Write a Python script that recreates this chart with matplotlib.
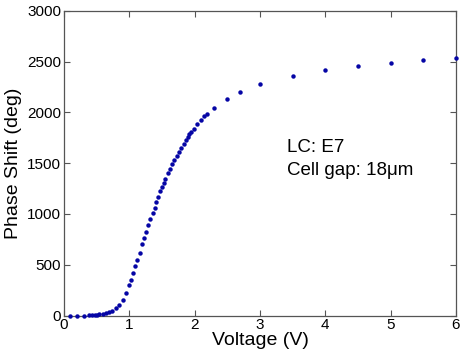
import matplotlib
matplotlib.use("Agg")
import matplotlib.pyplot as plt

# Данные: напряжение (В) и фазовый сдвиг (град)
voltage = [0.09, 0.2, 0.3, 0.39, 0.43, 0.47, 0.50, 0.54, 0.59, 0.64, 0.69, 0.74,
           0.80, 0.84, 0.90, 0.95, 1.00, 1.02, 1.05, 1.09, 1.12, 1.16, 1.19, 1.23,
           1.26, 1.29, 1.32, 1.36, 1.39, 1.41, 1.44, 1.47, 1.50, 1.53, 1.55, 1.59,
           1.63, 1.66, 1.69, 1.73, 1.76, 1.79, 1.83, 1.87, 1.90, 1.92, 1.95, 1.99,
           2.04, 2.09, 2.15, 2.19, 2.30, 2.50, 2.70, 3.00, 3.50, 4.00, 4.50, 5.00,
           5.50, 6.00]
phase = [0, 0, 0, 5, 8, 10, 10, 12, 15, 24, 36, 49,
         73, 105, 154, 226, 298, 350, 416, 488, 544, 618, 701, 760,
         819, 891, 953, 1012, 1060, 1120, 1170, 1222, 1270, 1300, 1342, 1401,
         1440, 1489, 1534, 1570, 1610, 1649, 1688, 1725, 1754, 1784, 1809, 1839,
         1882, 1927, 1961, 1986, 2045, 2130, 2205, 2282, 2362, 2421, 2457, 2490,
         2516, 2533]

x_ticks = [0, 1, 2, 3, 4, 5, 6]
y_ticks = [0, 500, 1000, 1500, 2000, 2500, 3000]

plt.rcParams['font.family'] = ['Liberation Sans', 'DejaVu Sans']

fig = plt.figure(figsize=(4.74, 3.57), dpi=100)
ax = fig.add_axes([0.135, 0.116, 0.827, 0.854])

ax.plot(voltage, phase, 'o', color='#0505a5', markersize=3.2, markeredgewidth=0,
        clip_on=False, zorder=3)

ax.set_xlim(0, 6)
ax.set_ylim(0, 3000)
ax.set_xticks(x_ticks)
ax.set_yticks(y_ticks)
ax.tick_params(direction='in', top=True, right=True, labelsize=11, length=4,
               color='#555555', pad=2)
for s in ax.spines.values():
    s.set_color('#555555')
    s.set_linewidth(0.9)

ax.set_xlabel('Voltage (V)', fontsize=14, labelpad=0)
ax.set_ylabel('Phase Shift (deg)', fontsize=14, labelpad=4)

# Подписи внутри графика
ax.text(3.41, 1610, 'LC: E7', fontsize=13.5)
ax.text(3.41, 1384, 'Cell gap: 18\u03bcm', fontsize=13.5)

fig.savefig('out.png', dpi=100)
